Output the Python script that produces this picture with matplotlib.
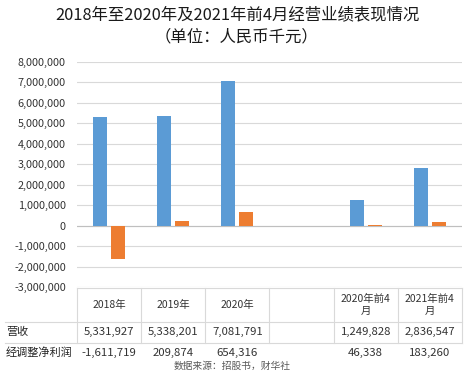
import matplotlib
matplotlib.use("Agg")
import matplotlib.pyplot as plt
from matplotlib import transforms

plt.rcParams["font.family"] = ["Noto Sans CJK SC", "DejaVu Sans"]

# data (thousand RMB)
categories = ["2018年", "2019年", "2020年", "", "2020年前4\n月", "2021年前4\n月"]
revenue = [5331927, 5338201, 7081791, None, 1249828, 2836547]
adj_profit = [-1611719, 209874, 654316, None, 46338, 183260]
row_names = ["营收", "经调整净利润"]
yticks = list(range(-3000000, 8000001, 1000000))

W, H = 474, 375
fig = plt.figure(figsize=(W / 100, H / 100), dpi=100)
ax = fig.add_axes([77 / W, 1 - 287 / H, (462 - 77) / W, (287 - 62) / H])

x = list(range(len(categories)))
bw = 0.22
for i in x:
    if revenue[i] is not None:
        ax.bar(i - 0.14, revenue[i], bw, color="#5B9BD5", zorder=3)
    if adj_profit[i] is not None:
        ax.bar(i + 0.14, adj_profit[i], bw, color="#ED7D31", zorder=3)

ax.set_xlim(-0.5, len(categories) - 0.5)
ax.set_ylim(-3000000, 8000000)
ax.set_yticks(yticks)
ax.set_yticklabels(["{:,}".format(v) for v in yticks], fontsize=7.8, color="#333333")
ax.set_xticks([])
ax.tick_params(axis="y", length=0, pad=8)
ax.grid(axis="y", color="#D9D9D9", linewidth=0.8, zorder=0)
ax.axhline(0, color="#BFBFBF", linewidth=0.8, zorder=2)
for s in ax.spines.values():
    s.set_visible(False)

# title
fig.text(0.5, 1 - 15 / H, "2018年至2020年及2021年前4月经营业绩表现情况",
         ha="center", va="center", fontsize=11.8, color="#1a1a1a")
fig.text(0.5, 1 - 37 / H, "（单位：人民币千元）",
         ha="center", va="center", fontsize=11.8, color="#1a1a1a")

# data table below the axis
tr = transforms.blended_transform_factory(ax.transData, fig.transFigure)
def fy(px):
    return 1 - px / H

grid_c = "#D9D9D9"
n = len(categories)
for k in range(n + 1):
    ax.plot([k - 0.5, k - 0.5], [fy(288), fy(343)], transform=tr, color=grid_c,
            linewidth=0.8, clip_on=False)
ax.plot([-0.5, n - 0.5], [fy(288), fy(288)], transform=tr, color=grid_c,
        linewidth=0.8, clip_on=False)
for yy in (322, 343):
    fig.add_artist(plt.Line2D([5 / W, 462 / W], [fy(yy), fy(yy)], color=grid_c,
                              linewidth=0.8))

for i, c in enumerate(categories):
    ax.text(i, fy(305), c, transform=tr, ha="center", va="center", fontsize=7.5,
            color="#333333", linespacing=1.3, clip_on=False)
    if revenue[i] is not None:
        ax.text(i, fy(332), "{:,}".format(revenue[i]), transform=tr, ha="center",
                va="center", fontsize=8.2, color="#333333", clip_on=False)
    if adj_profit[i] is not None:
        ax.text(i, fy(353), "{:,}".format(adj_profit[i]), transform=tr, ha="center",
                va="center", fontsize=8.2, color="#333333", clip_on=False)

fig.text(6 / W, fy(332), row_names[0], ha="left", va="center", fontsize=8,
         color="#262626")
fig.text(6 / W, fy(353), row_names[1], ha="left", va="center", fontsize=8,
         color="#262626")

fig.text(232 / W, fy(366), "数据来源：招股书，财华社", ha="center", va="center",
         fontsize=7, color="#595959")

fig.savefig("out.png", dpi=100, facecolor="white")
